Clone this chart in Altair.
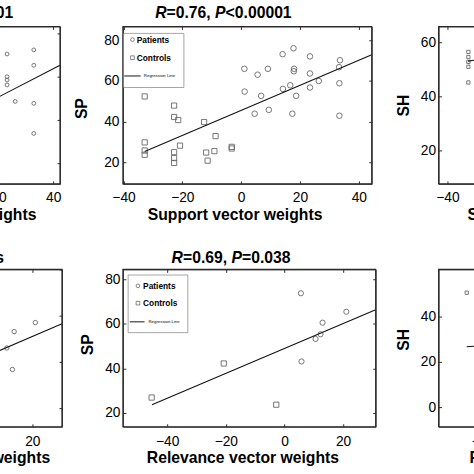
import altair as alt
import pandas as pd

# ---------------- values ----------------
# top row, left panel (only its right edge is visible)
a_pat_x = [32.9, 23.1, 32.9, 23.1, 23.1, 23.1, 26.1, 32.9, 32.9]
a_pat_y = [72.4, 70.5, 65.3, 60.0, 58.5, 56.2, 48.6, 47.7, 33.8]
a_fit_x = [-33.0, 42.5]
a_fit_y = [16.1, 65.3]

# top row, middle panel: SP vs support vector weights
sv_pat_x = [17.8, 14.1, 23.4, 33.6, 33.3, 1.1, 9.1, 18.0, 17.9, 5.6, 23.4, 26.4,
            33.4, 16.7, 14.2, 23.4, 1.2, 6.8, 18.7, 9.4, 4.6, 17.4, 33.4]
sv_pat_y = [76.1, 73.2, 72.1, 70.2, 66.8, 66.0, 66.0, 66.0, 64.8, 63.1, 63.7, 60.0,
            58.9, 57.9, 56.1, 56.8, 54.8, 52.7, 52.7, 45.8, 43.9, 43.9, 42.9]
sv_con_x = [-32.8, -22.8, -22.8, -21.4, -12.6, -32.8, -32.8, -32.8, -22.8, -22.8,
            -22.8, -20.8, -8.7, -11.9, -11.4, -9.1, -3.2, -3.2]
sv_con_y = [52.4, 47.9, 42.3, 40.8, 39.8, 29.8, 25.8, 23.7, 25.0, 22.1,
            19.7, 28.2, 32.9, 24.8, 20.8, 25.5, 27.6, 26.8]
sv_fit_x = [-32.8, 44.4]
sv_fit_y = [25.3, 72.9]

# top row, right panel (only its left edge is visible)
c_con_x = [-32.9, -32.9, -32.9, -32.9, -32.9]
c_con_y = [56.4, 54.5, 52.7, 50.9, 45.1]
c_fit_x = [-33.0, 30.0]
c_fit_y = [53.0, 64.0]

# bottom row, left panel
d_pat_x = [21.0, 13.8, 11.3, 13.2]
d_pat_y = [57.0, 53.1, 46.0, 36.7]
d_fit_x = [-50.0, 30.1]
d_fit_y = [12.8, 56.5]

# bottom row, middle panel: SP vs relevance vector weights
rv_pat_x = [5.6, 21.1, 13.0, 12.3, 10.6, 5.8]
rv_pat_y = [73.7, 65.4, 60.5, 55.3, 53.2, 43.1]
rv_con_x = [-45.3, -20.7, -2.8]
rv_con_y = [26.9, 42.2, 23.7]
rv_fit_x = [-45.2, 31.1]
rv_fit_y = [23.7, 66.3]

# bottom row, right panel
f_con_x = [-45.5]
f_con_y = [50.6]
f_fit_x = [-45.5, 31.0]
f_fit_y = [26.7, 33.0]

# texts
title_b = [("R", True), ("=0.76, ", False), ("P", True), ("<0.00001", False)]
title_e = [("R", True), ("=0.69, ", False), ("P", True), ("=0.038", False)]
title_a = "R=0.62, P=0.0001"
title_d = "R=0.45, n.s"
legend_labels = ["Patients", "Controls", "Regression Line"]
xlab_sv = "Support vector weights"
xlab_rv = "Relevance vector weights"
ylab_sp = "SP"
ylab_sh = "SH"

# ticks
x_ticks_sv = [-40, -20, 0, 20, 40]
x_ticks_rv = [-40, -20, 0, 20]
y_ticks_sp = [20, 40, 60, 80]
y_ticks_sh_top = [20, 40, 60]
y_ticks_sh_bot = [0, 20, 40]

# ---------------- styling ----------------
FONT = "Liberation Sans, Arial, Helvetica, sans-serif"
FRAME = "#2b2b2b"
MARKC = "#666666"
FITC = "#111111"

ARIAL_BOLD = {"R": 0.722, "P": 0.667, "=": 0.584, "<": 0.584, ".": 0.278, ",": 0.278, " ": 0.278}


def text_w(s, size):
    return size * sum(ARIAL_BOLD.get(c, 0.556) for c in s)


def frame_axis(orient, values, labels=True, pad=7, title=None, tx=0, ty=0,
               talign="center", tbase="alphabetic", tangle=0):
    kw = dict(orient=orient, values=values, offset=-3, tickSize=3, tickWidth=1,
              tickColor=FRAME, domain=False, grid=False, labels=labels,
              labelFlush=False, labelOverlap=False)
    if labels:
        kw.update(labelFont=FONT, labelFontSize=14, labelColor="#000", labelPadding=pad)
    if title:
        kw.update(title=title, titleFont=FONT, titleFontSize=16, titleFontWeight="bold",
                  titleColor="#000", titleX=tx, titleY=ty, titleAlign=talign,
                  titleBaseline=tbase, titleAngle=tangle)
    else:
        kw["title"] = None
    return alt.Axis(**kw)


def scales(xdom, ydom):
    return (alt.Scale(domain=xdom, nice=False, zero=False),
            alt.Scale(domain=ydom, nice=False, zero=False))


def point_layer(xs, ys, shape, size, xdom, ydom, xaxis, yaxis):
    sx, sy = scales(xdom, ydom)
    return alt.Chart(pd.DataFrame({"x": xs, "y": ys})).mark_point(
        shape=shape, filled=False, size=size, color=MARKC, strokeWidth=0.9, opacity=1
    ).encode(x=alt.X("x:Q", scale=sx, axis=xaxis), y=alt.Y("y:Q", scale=sy, axis=yaxis))


def fit_layer(xs, ys, xdom, ydom, xaxis, yaxis):
    sx, sy = scales(xdom, ydom)
    return alt.Chart(pd.DataFrame({"x": xs, "y": ys})).mark_line(
        color=FITC, strokeWidth=1.1
    ).encode(x=alt.X("x:Q", scale=sx, axis=xaxis), y=alt.Y("y:Q", scale=sy, axis=yaxis))


def frame_box(w, h):
    return alt.Chart(pd.DataFrame({"k": [0]})).mark_rect(
        fillOpacity=0, stroke=FRAME, strokeWidth=1.2
    ).encode(x=alt.value(0), x2=alt.value(w), y=alt.value(0), y2=alt.value(h))


def title_marks(parts, cx, by, size=16):
    total = sum(text_w(t, size) for t, _ in parts)
    x = cx - total / 2
    out = []
    for t, italic in parts:
        out.append(alt.Chart(pd.DataFrame({"t": [t]})).mark_text(
            align="left", baseline="alphabetic", font=FONT, fontSize=size,
            fontWeight="bold", fontStyle="italic" if italic else "normal", color="#000"
        ).encode(text="t:N", x=alt.value(round(x, 2)), y=alt.value(by)))
        x += text_w(t, size)
    return out


def plain_title(text, right_x, by, size=16):
    return alt.Chart(pd.DataFrame({"t": [text]})).mark_text(
        align="right", baseline="alphabetic", font=FONT, fontSize=size,
        fontWeight="bold", color="#000"
    ).encode(text="t:N", x=alt.value(right_x), y=alt.value(by))


def legend_marks(box, circ, sq, ln, tx, ltx):
    one = pd.DataFrame({"k": [0]})
    out = [
        alt.Chart(one).mark_rect(fill="white", stroke="#8c8c8c", strokeWidth=0.8).encode(
            x=alt.value(box[0]), x2=alt.value(box[1]), y=alt.value(box[2]), y2=alt.value(box[3])),
        alt.Chart(one).mark_point(shape="circle", filled=False, size=14, color=MARKC,
                                  strokeWidth=0.8, opacity=1).encode(
            x=alt.value(circ[0]), y=alt.value(circ[1])),
        alt.Chart(one).mark_point(shape="square", filled=False, size=14, color=MARKC,
                                  strokeWidth=0.8, opacity=1).encode(
            x=alt.value(sq[0]), y=alt.value(sq[1])),
        alt.Chart(one).mark_rule(color=FITC, strokeWidth=1).encode(
            x=alt.value(ln[0]), x2=alt.value(ln[1]), y=alt.value(ln[2])),
    ]
    for lab, xx, yy, fs, fw in [(legend_labels[0], tx, circ[1], 8.5, "bold"),
                                (legend_labels[1], tx, sq[1], 8.5, "bold"),
                                (legend_labels[2], ltx, ln[2], 4.4, "normal")]:
        out.append(alt.Chart(pd.DataFrame({"t": [lab]})).mark_text(
            align="left", baseline="middle", font=FONT, fontSize=fs, fontWeight=fw, color="#000"
        ).encode(text="t:N", x=alt.value(xx), y=alt.value(yy)))
    return out


def panel(layers, w, h):
    return alt.layer(*layers, frame_box(w, h)).resolve_axis(
        x="independent", y="independent").properties(width=w, height=h)


def spacer(w):
    return alt.Chart(pd.DataFrame({"k": [0]})).mark_point(opacity=0).encode(
        x=alt.value(0), y=alt.value(0)
    ).properties(width=w, height=1, view=alt.ViewBackground(strokeOpacity=0, fillOpacity=0))


# ---------------- top row ----------------
A_x, A_y = [-51.2, 42.5], [10.5, 83.2]
A = panel([
    point_layer(a_pat_x, a_pat_y, "circle", 15, A_x, A_y,
                frame_axis("bottom", x_ticks_sv, pad=7, title=xlab_sv, tx=235.5, ty=39, talign="right"),
                frame_axis("left", y_ticks_sp, labels=False)),
    fit_layer(a_fit_x, a_fit_y, A_x, A_y,
              frame_axis("top", x_ticks_sv, labels=False),
              frame_axis("right", y_ticks_sp, labels=False)),
    plain_title(title_a, 212.5, -8.5),
], 260, 160)

B_x, B_y = [-40.2, 44.4], [9.4, 86.8]
B = panel([
    point_layer(sv_pat_x, sv_pat_y, "circle", 32, B_x, B_y,
                frame_axis("bottom", x_ticks_sv, pad=7, title=xlab_sv, tx=113.5, ty=39),
                frame_axis("left", y_ticks_sp, pad=4, title=ylab_sp, tx=-45, ty=83,
                           tbase="middle", tangle=270)),
    point_layer(sv_con_x, sv_con_y, "square", 28, B_x, B_y, None, None),
    fit_layer(sv_fit_x, sv_fit_y, B_x, B_y,
              frame_axis("top", x_ticks_sv, labels=False),
              frame_axis("right", y_ticks_sp, labels=False)),
    *title_marks(title_b, 102.2, -8.5),
    *legend_marks((0, 62, 7, 62), (9.7, 13.3), (9.7, 31.7), (1.3, 18, 50.3), 14, 21.3),
], 253, 160)

C_x, C_y = [-43.0, 43.7], [7.6, 65.8]
C = panel([
    point_layer(c_con_x, c_con_y, "square", 11, C_x, C_y,
                frame_axis("bottom", x_ticks_sv, pad=7, title=xlab_sv, tx=29, ty=39, talign="left"),
                frame_axis("left", y_ticks_sh_top, pad=3, title=ylab_sh, tx=-38.5, ty=80,
                           tbase="middle", tangle=270)),
    fit_layer(c_fit_x, c_fit_y, C_x, C_y,
              frame_axis("top", x_ticks_sv, labels=False),
              frame_axis("right", y_ticks_sh_top, labels=False)),
], 260, 160)

# ---------------- bottom row ----------------
D_x, D_y = [-57.8, 30.1], [11.9, 80.0]
D = panel([
    point_layer(d_pat_x, d_pat_y, "circle", 20, D_x, D_y,
                frame_axis("bottom", x_ticks_rv, pad=8, title=xlab_rv, tx=249.5, ty=39.5, talign="right"),
                frame_axis("left", y_ticks_sp, labels=False)),
    fit_layer(d_fit_x, d_fit_y, D_x, D_y,
              frame_axis("top", x_ticks_rv, labels=False),
              frame_axis("right", y_ticks_sp, labels=False)),
    plain_title(title_d, 203, -7),
], 262, 160)

E_x, E_y = [-55.1, 31.1], [13.8, 84.4]
E = panel([
    point_layer(rv_pat_x, rv_pat_y, "circle", 28, E_x, E_y,
                frame_axis("bottom", x_ticks_rv, pad=8, title=xlab_rv, tx=121.5, ty=39.5),
                frame_axis("left", y_ticks_sp, pad=3, title=ylab_sp, tx=-38.5, ty=76,
                           tbase="middle", tangle=270)),
    point_layer(rv_con_x, rv_con_y, "square", 28, E_x, E_y, None, None),
    fit_layer(rv_fit_x, rv_fit_y, E_x, E_y,
              frame_axis("top", x_ticks_rv, labels=False),
              frame_axis("right", y_ticks_sp, labels=False)),
    *title_marks(title_e, 110, -6.5),
    *legend_marks((5.3, 66, 5.7, 64.3), (15.3, 16.7), (15.3, 34.3), (7, 22, 53.3), 20.5, 26),
], 257, 160)

F_x, F_y = [-55.1, 31.1], [-8.7, 60.9]
F = panel([
    point_layer(f_con_x, f_con_y, "square", 11, F_x, F_y,
                frame_axis("bottom", x_ticks_rv, pad=8, title=xlab_rv, tx=31, ty=39.5, talign="left"),
                frame_axis("left", y_ticks_sh_bot, pad=3, title=ylab_sh, tx=-39, ty=71,
                           tbase="middle", tangle=270)),
    fit_layer(f_fit_x, f_fit_y, F_x, F_y,
              frame_axis("top", x_ticks_rv, labels=False),
              frame_axis("right", y_ticks_sh_bot, labels=False)),
], 257, 160)

chart = alt.concat(
    A, spacer(62), B, spacer(63), C,
    D, spacer(56), E, spacer(64), F,
    columns=5,
    spacing={"row": 87, "column": 0},
    bounds="flush",
    align={"row": "all", "column": "none"},
).properties(
    padding={"left": -201, "right": -226, "top": 1, "bottom": 0}
).configure(
    font=FONT, background="white"
).configure_view(
    stroke=FRAME, strokeWidth=1
)

chart.save("out.html", embed_options={"renderer": "svg", "actions": False})
